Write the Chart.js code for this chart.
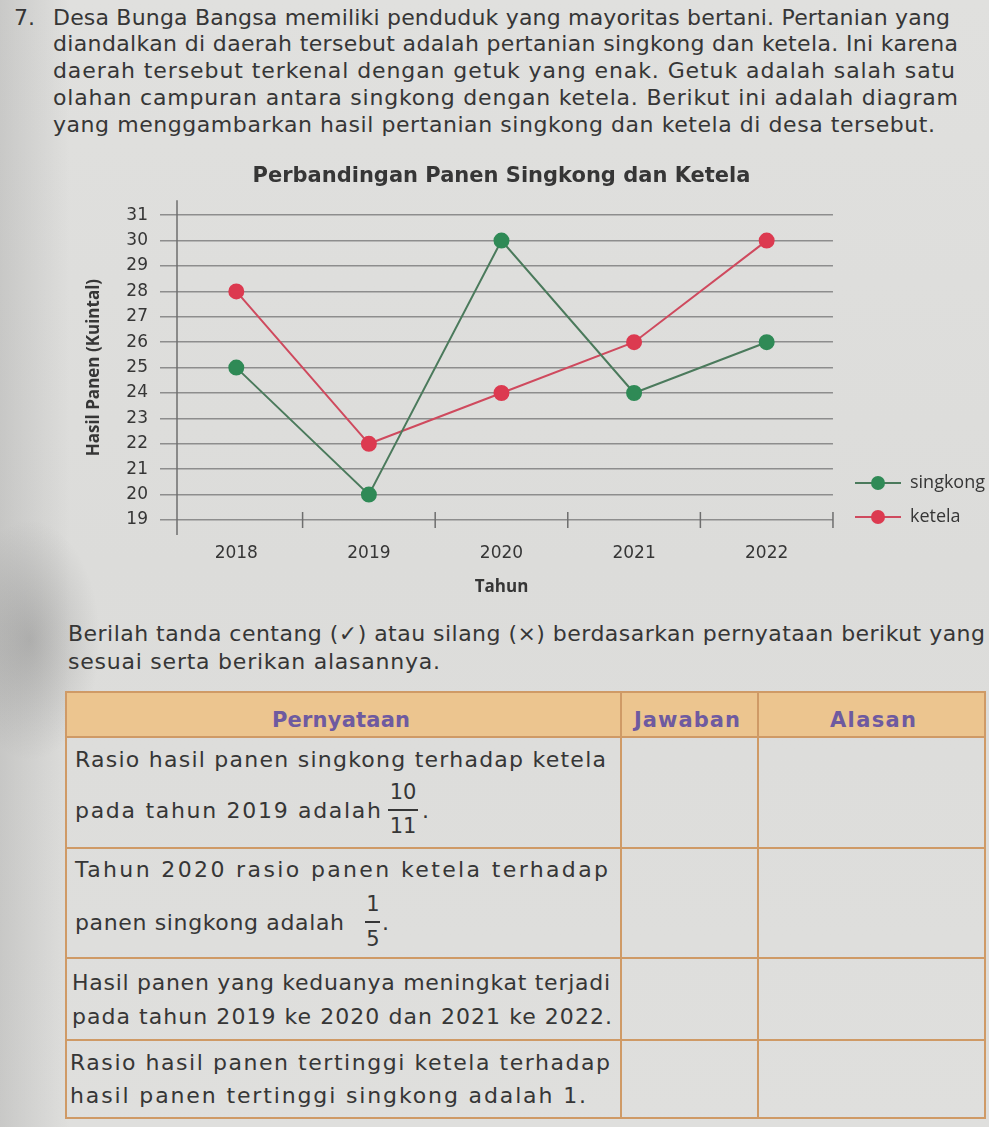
<!DOCTYPE html>
<html>
<head>
<meta charset="utf-8">
<script src="https://cdn.jsdelivr.net/npm/chart.js@4.4.0/dist/chart.umd.min.js"></script>
<style>
  html,body{margin:0;padding:0;}
  body{width:989px;height:1127px;overflow:hidden;position:relative;
    background:
      radial-gradient(ellipse 70px 120px at 30px 640px, rgba(110,110,110,0.35), rgba(110,110,110,0) 100%),
      linear-gradient(90deg, rgba(120,120,120,0.22) 0px, rgba(120,120,120,0) 70px),
      linear-gradient(180deg,#e0e0de 0%,#dcdcda 50%,#dfdfdd 100%);
    font-family:"DejaVu Sans","Open Sans",sans-serif;color:#363636;}
  .t{position:absolute;white-space:nowrap;font-size:22px;line-height:26px;}
  .cellline{position:absolute;background:#cf9a66;}
  .hdr{position:absolute;font-weight:700;color:#6e5aa0;font-size:21px;line-height:26px;white-space:nowrap;}
  .frac{position:absolute;font-size:21px;line-height:24px;text-align:center;}
  #chartWrap{position:absolute;left:0;top:150px;width:989px;height:460px;}
</style>
</head>
<body>
<div class="t" style="left:14px;top:5px;">7.</div>
<div class="t fit" data-w="897" style="left:53px;top:5px;">Desa Bunga Bangsa memiliki penduduk yang mayoritas bertani. Pertanian yang</div>
<div class="t fit" data-w="905" style="left:53px;top:31px;">diandalkan di daerah tersebut adalah pertanian singkong dan ketela. Ini karena</div>
<div class="t fit" data-w="902" style="left:53px;top:58px;">daerah tersebut terkenal dengan getuk yang enak. Getuk adalah salah satu</div>
<div class="t fit" data-w="905" style="left:53px;top:85px;">olahan campuran antara singkong dengan ketela. Berikut ini adalah diagram</div>
<div class="t fit" data-w="882" style="left:53px;top:112px;">yang menggambarkan hasil pertanian singkong dan ketela di desa tersebut.</div>

<div id="chartWrap"><canvas id="c" width="989" height="460"></canvas></div>

<div class="t fit" data-w="917" style="left:68px;top:621px;">Berilah tanda centang (✓) atau silang (×) berdasarkan pernyataan berikut yang</div>
<div class="t fit" data-w="372" style="left:68px;top:649px;">sesuai serta berikan alasannya.</div>

<!-- table -->
<div style="position:absolute;left:66px;top:692px;width:919px;height:45px;background:#ecc58f;"></div>
<div class="cellline" style="left:66px;top:691px;width:919px;height:2px;"></div>
<div class="cellline" style="left:66px;top:736px;width:919px;height:2px;"></div>
<div class="cellline" style="left:66px;top:847px;width:919px;height:2px;"></div>
<div class="cellline" style="left:66px;top:957px;width:919px;height:2px;"></div>
<div class="cellline" style="left:66px;top:1039px;width:919px;height:2px;"></div>
<div class="cellline" style="left:66px;top:1117px;width:919px;height:2px;"></div>
<div class="cellline" style="left:65px;top:691px;width:2px;height:428px;"></div>
<div class="cellline" style="left:620px;top:691px;width:2px;height:428px;"></div>
<div class="cellline" style="left:757px;top:691px;width:2px;height:428px;"></div>
<div class="cellline" style="left:984px;top:691px;width:2px;height:428px;"></div>

<div class="hdr fit" data-w="138" style="left:272px;top:707px;">Pernyataan</div>
<div class="hdr fit" data-w="106" style="left:634px;top:707px;">Jawaban</div>
<div class="hdr fit" data-w="86" style="left:830px;top:707px;">Alasan</div>

<div class="t fit" data-w="531" style="left:75px;top:747px;">Rasio hasil panen singkong terhadap ketela</div>
<div class="t fit" data-w="306" style="left:75px;top:798px;">pada tahun 2019 adalah</div>
<div class="frac" style="left:386px;top:780px;width:34px;">10</div>
<div style="position:absolute;left:388px;top:809px;width:30px;height:2px;background:#363636;"></div>
<div class="frac" style="left:386px;top:814px;width:34px;">11</div>
<div class="t" style="left:422px;top:798px;">.</div>

<div class="t fit" data-w="533" style="left:75px;top:857px;">Tahun 2020 rasio panen ketela terhadap</div>
<div class="t fit" data-w="269" style="left:75px;top:910px;">panen singkong adalah</div>
<div class="frac" style="left:364px;top:892px;width:18px;">1</div>
<div style="position:absolute;left:365px;top:921px;width:15px;height:2px;background:#363636;"></div>
<div class="frac" style="left:364px;top:927px;width:18px;">5</div>
<div class="t" style="left:382px;top:910px;">.</div>

<div class="t fit" data-w="538" style="left:72px;top:970px;">Hasil panen yang keduanya meningkat terjadi</div>
<div class="t fit" data-w="540" style="left:72px;top:1004px;">pada tahun 2019 ke 2020 dan 2021 ke 2022.</div>
<div class="t fit" data-w="540" style="left:70px;top:1050px;">Rasio hasil panen tertinggi ketela terhadap</div>
<div class="t fit" data-w="516" style="left:70px;top:1083px;">hasil panen tertinggi singkong adalah 1.</div>

<script>
// ---- data ----
const years = ['2018', '2019', '2020', '2021', '2022'];
const singkong = [25, 20, 30, 24, 26];
const ketela = [28, 22, 24, 26, 30];
const yMin = 19;
const yMax = 31;
const seriesNames = ['singkong', 'ketela'];

// fit text lines to measured widths
document.querySelectorAll('.fit').forEach(el => {
  const target = +el.dataset.w;
  el.style.display = 'inline-block';
  const w = el.getBoundingClientRect().width;
  const n = el.textContent.length - 1;
  if (n > 0) el.style.letterSpacing = ((target - w) / n) + 'px';
});

const greenDot = '#2f8a56', greenLine = '#4b7a5c';
const redDot = '#dc3a50', redLine = '#cf4a5e';
const FONT = '"DejaVu Sans", "Open Sans", sans-serif';
const FONT2 = '"Open Sans", "Lato", sans-serif';
const textCol = '#363636';

function legendIcon(lineCol, dotCol) {
  const cv = document.createElement('canvas');
  cv.width = 46; cv.height = 18;
  const g = cv.getContext('2d');
  g.strokeStyle = lineCol; g.lineWidth = 2;
  g.beginPath(); g.moveTo(0, 9); g.lineTo(46, 9); g.stroke();
  g.fillStyle = dotCol;
  g.beginPath(); g.arc(23, 9, 7, 0, Math.PI * 2); g.fill();
  return cv;
}
const icons = [legendIcon(greenLine, greenDot), legendIcon(redLine, redDot)];

const axisPlugin = {
  id: 'axisDeco',
  afterLayout(chart) {
    const l = chart.legend;
    if (l) { l.top += 22; l.bottom += 22; l.left += 6; l.right += 6; }
  },
  beforeDatasetsDraw(chart) {
    const {ctx, chartArea, scales} = chart;
    const xs = scales.x;
    ctx.save();
    ctx.strokeStyle = '#6e6e6e';
    ctx.lineWidth = 1.5;
    ctx.beginPath();
    ctx.moveTo(chartArea.left + 7, chartArea.top - 15);
    ctx.lineTo(chartArea.left + 7, chartArea.bottom + 15);
    ctx.stroke();
    const step = xs.getPixelForValue(1) - xs.getPixelForValue(0);
    for (let i = 0; i < years.length; i++) {
      const x = xs.getPixelForValue(i) + step / 2;
      ctx.beginPath();
      ctx.moveTo(x, chartArea.bottom - 8);
      ctx.lineTo(x, chartArea.bottom + 8);
      ctx.stroke();
    }
    ctx.restore();
  }
};

new Chart(document.getElementById('c'), {
  type: 'line',
  data: {
    labels: years,
    datasets: [
      {label: seriesNames[0], data: singkong, borderColor: greenLine, backgroundColor: greenDot,
       pointBackgroundColor: greenDot, pointBorderColor: greenDot, pointRadius: 7, borderWidth: 2, tension: 0},
      {label: seriesNames[1], data: ketela, borderColor: redLine, backgroundColor: redDot,
       pointBackgroundColor: redDot, pointBorderColor: redDot, pointRadius: 7, borderWidth: 2, tension: 0}
    ]
  },
  options: {
    responsive: false,
    animation: false,
    devicePixelRatio: 1,
    layout: {padding: {left: 80, top: 0, right: 0, bottom: 9}},
    plugins: {
      title: {display: true, fullSize: false, text: 'Perbandingan Panen Singkong dan Ketela', color: textCol,
        font: {family: FONT, size: 21, weight: 'bold'}, padding: {top: 14, bottom: 26}},
      legend: {
        position: 'right', align: 'end', fullSize: false,
        labels: {
          usePointStyle: true, pointStyleWidth: 46, boxHeight: 18, padding: 16,
          color: textCol, font: {family: FONT2, size: 18},
          generateLabels: (chart) => chart.data.datasets.map((ds, i) => ({
            text: ds.label, pointStyle: icons[i], fillStyle: ds.backgroundColor,
            strokeStyle: ds.borderColor, lineWidth: 0, hidden: false, datasetIndex: i, fontColor: textCol
          }))
        }
      },
      tooltip: {enabled: false}
    },
    scales: {
      x: {
        offset: true,
        grid: {display: false, drawTicks: false},
        border: {display: false},
        ticks: {color: textCol, font: {family: FONT, size: 17}, padding: 23, autoSkip: false, maxRotation: 0},
        title: {display: true, text: 'Tahun', color: textCol, font: {family: FONT2, size: 17, weight: 'bold'},
          padding: {top: 12, bottom: 4}},
        afterFit: (s) => { s.height = 81; }
      },
      y: {
        min: yMin, max: yMax,
        ticks: {stepSize: 1, autoSkip: false, color: textCol, font: {family: FONT, size: 17}, padding: 12},
        grid: {color: '#8d8d8d', lineWidth: 1.5, tickLength: 10, drawTicks: true},
        border: {display: false},
        title: {display: true, text: 'Hasil Panen (Kuintal)', color: textCol,
          font: {family: FONT2, size: 17, weight: 'bold'}, padding: {top: 4, bottom: 4}},
        afterFit: (s) => { s.width = 90; }
      }
    }
  },
  plugins: [axisPlugin]
});
</script>
</body>
</html>
